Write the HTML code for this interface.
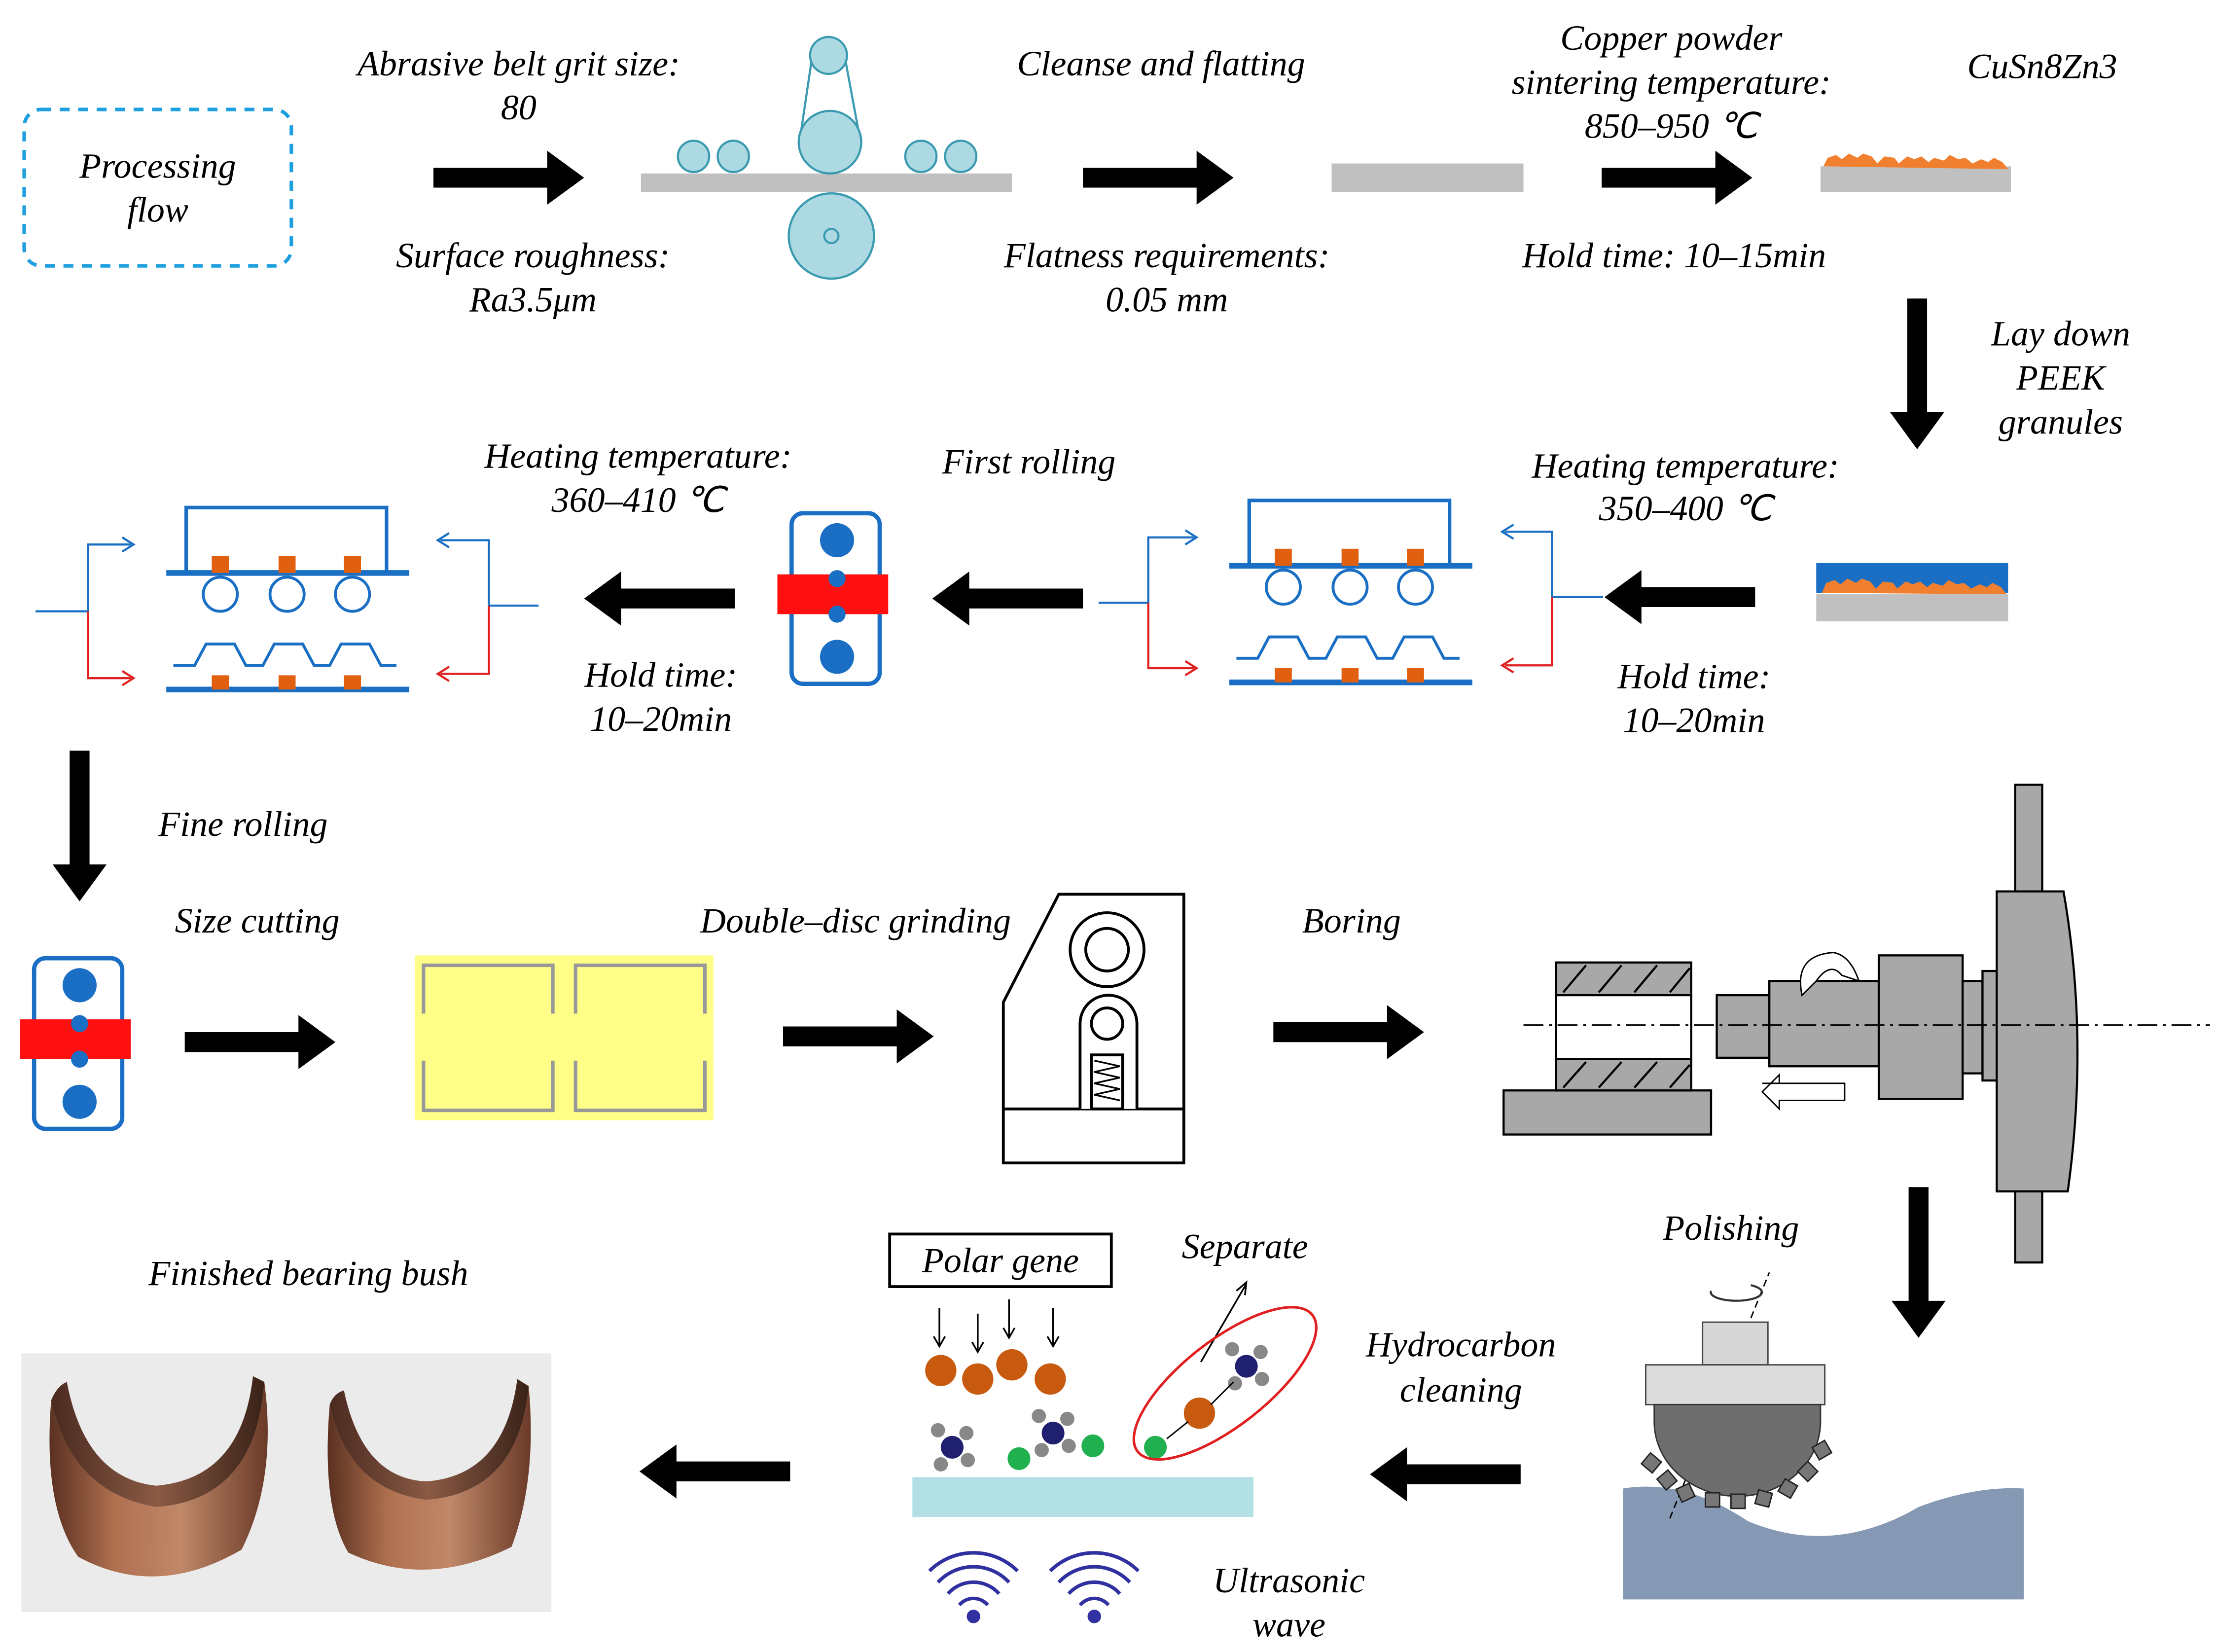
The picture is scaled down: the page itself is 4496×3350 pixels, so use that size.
<!DOCTYPE html>
<html><head><meta charset="utf-8"><style>
html,body{margin:0;padding:0;background:#fff}
svg{display:block}
text{font-family:"Liberation Serif",serif;font-style:italic;font-size:25px;fill:#000;text-anchor:middle}
</style></head><body>
<svg width="4496" height="3350" viewBox="0 0 1560 1162" preserveAspectRatio="none" xmlns="http://www.w3.org/2000/svg">
<defs>
<polygon id="ar" points="0,-7 80,-7 80,-19 106,0 80,19 80,7 0,7" fill="#000"/>
<linearGradient id="br" x1="0" x2="1" y1="0" y2="0">
<stop offset="0" stop-color="#5a3020"/><stop offset="0.3" stop-color="#b07050"/><stop offset="0.6" stop-color="#c08868"/><stop offset="1" stop-color="#6a3a28"/></linearGradient>
<linearGradient id="bi" x1="0" x2="1" y1="0" y2="0">
<stop offset="0" stop-color="#4a2a20"/><stop offset="0.5" stop-color="#8a5a44"/><stop offset="1" stop-color="#3a2218"/></linearGradient>
<g id="press">
<rect x="14" y="0" width="141" height="46" fill="none" stroke="#1a6fc4" stroke-width="2.5"/>
<line x1="0" y1="46" x2="171" y2="46" stroke="#1a6fc4" stroke-width="4"/>
<rect x="32" y="34" width="12" height="12" fill="#e06010"/><rect x="79" y="34" width="12" height="12" fill="#e06010"/><rect x="125" y="34" width="12" height="12" fill="#e06010"/>
<circle cx="38" cy="61" r="12" fill="none" stroke="#1a6fc4" stroke-width="2"/><circle cx="85" cy="61" r="12" fill="none" stroke="#1a6fc4" stroke-width="2"/><circle cx="131" cy="61" r="12" fill="none" stroke="#1a6fc4" stroke-width="2"/>
<polyline points="5,111 20,111 28,96 48,96 56,111 68,111 76,96 96,96 104,111 115,111 123,96 143,96 151,111 162,111" fill="none" stroke="#1a6fc4" stroke-width="2"/>
<line x1="0" y1="128" x2="171" y2="128" stroke="#1a6fc4" stroke-width="4"/>
<rect x="32" y="118" width="12" height="10" fill="#e06010"/><rect x="79" y="118" width="12" height="10" fill="#e06010"/><rect x="125" y="118" width="12" height="10" fill="#e06010"/>
</g>
<g id="roller">
<rect x="0" y="0" width="62" height="120" rx="8" fill="#fff" stroke="#1a6fc4" stroke-width="3"/>
<rect x="-10" y="43" width="78" height="28" fill="#ff1010"/>
<circle cx="32" cy="19" r="12" fill="#1a6fc4"/><circle cx="32" cy="101" r="12" fill="#1a6fc4"/>
<circle cx="32" cy="46" r="6" fill="#1a6fc4"/><circle cx="32" cy="71" r="6" fill="#1a6fc4"/>
</g>
<g id="mol"><circle cx="0" cy="0" r="8" fill="#202070"/><circle cx="-10" cy="-12" r="5" fill="#888"/><circle cx="10" cy="-10" r="5" fill="#888"/><circle cx="-8" cy="12" r="5" fill="#888"/><circle cx="11" cy="9" r="5" fill="#888"/></g>
<g id="wave" fill="none" stroke="#3030a0" stroke-width="2.5"><path d="M-10,-8 A13,13 0 0 1 10,-8"/><path d="M-18,-16 A24,24 0 0 1 18,-16"/><path d="M-25,-24 A34,34 0 0 1 25,-24"/><path d="M-31,-32 A44,44 0 0 1 31,-32"/><circle cx="0" cy="0" r="3.5" fill="#3030a0"/></g>
</defs>

<rect x="17" y="77" width="188" height="110" rx="12" fill="none" stroke="#1ea0e0" stroke-width="2.5" stroke-dasharray="7,6"/>
<text x="111" y="125">Processing</text><text x="111" y="156">flow</text>
<text x="365" y="53">Abrasive belt grit size:</text><text x="365" y="84">80</text>
<use href="#ar" x="305" y="125"/>
<text x="375" y="188">Surface roughness:</text><text x="375" y="219">Ra3.5μm</text>
<rect x="451" y="122" width="261" height="13" fill="#c0c0c0"/>
<g fill="#acd9e2" stroke="#3a9ab0" stroke-width="1.5">
<line x1="571" y1="43" x2="563" y2="97"/><line x1="595" y1="43" x2="605" y2="97"/>
<circle cx="488" cy="110" r="11"/><circle cx="516" cy="110" r="11"/><circle cx="648" cy="110" r="11"/><circle cx="676" cy="110" r="11"/>
<circle cx="584" cy="100" r="22"/><circle cx="583" cy="39" r="13"/><circle cx="585" cy="166" r="30"/><circle cx="585" cy="166" r="5"/></g>
<text x="817" y="53">Cleanse and flatting</text>
<use href="#ar" x="762" y="125"/>
<text x="821" y="188">Flatness requirements:</text><text x="821" y="219">0.05 mm</text>
<rect x="937" y="115" width="135" height="20" fill="#c0c0c0"/>
<text x="1176" y="35">Copper powder</text><text x="1176" y="66">sintering temperature:</text><text x="1176" y="97">850–950 ℃</text>
<use href="#ar" x="1127" y="125"/>
<text x="1178" y="188">Hold time: 10–15min</text>
<text x="1437" y="55">CuSn8Zn3</text>
<rect x="1281" y="117" width="134" height="18" fill="#c0c0c0"/>
<path d="M1283,117 l3,-6 6,-2 4,3 5,-4 6,3 4,-3 6,2 4,5 5,-5 7,1 3,4 6,-5 5,2 5,-2 5,4 4,-3 7,2 4,-4 6,3 5,-1 5,4 6,-3 5,2 4,-3 6,3 4,5 z" fill="#f08030"/>
<use href="#ar" transform="translate(1349,210) rotate(90)"/>
<text x="1450" y="243">Lay down</text><text x="1450" y="274">PEEK</text><text x="1450" y="305">granules</text>

<text x="1186" y="336">Heating temperature:</text><text x="1186" y="366">350–400 ℃</text>
<rect x="1278" y="396" width="135" height="21" fill="#1a6fc4"/>
<path d="M1282,417 l3,-7 6,-2 4,3 5,-4 6,3 4,-3 6,2 4,5 5,-5 7,1 3,4 6,-5 5,2 5,-2 5,4 4,-3 7,2 4,-4 6,3 5,-1 5,4 6,-3 5,2 4,-3 6,3 4,5 z" fill="#f08030"/>
<rect x="1278" y="418" width="135" height="19" fill="#c0c0c0"/>
<use href="#ar" transform="translate(1235,420) rotate(180)"/>
<text x="1192" y="484">Hold time:</text><text x="1192" y="515">10–20min</text>
<use href="#press" x="865" y="352"/>
<g fill="none" stroke-width="1.5">
<polyline points="773,424 808,424 808,378 840,378" stroke="#1a6fc4"/><polyline points="808,424 808,470 840,470" stroke="#e02020"/>
<polyline points="834,373 842,378 834,383" stroke="#1a6fc4"/><polyline points="834,465 842,470 834,475" stroke="#e02020"/>
<polyline points="1128,420 1092,420 1092,374 1059,374" stroke="#1a6fc4"/><polyline points="1092,420 1092,468 1059,468" stroke="#e02020"/>
<polyline points="1065,369 1057,374 1065,379" stroke="#1a6fc4"/><polyline points="1065,463 1057,468 1065,473" stroke="#e02020"/>
</g>
<text x="724" y="333">First rolling</text>
<use href="#ar" transform="translate(762,421) rotate(180)"/>
<use href="#roller" x="557" y="361"/>
<use href="#ar" transform="translate(517,421) rotate(180)"/>
<text x="449" y="329">Heating temperature:</text><text x="449" y="360">360–410 ℃</text>
<text x="465" y="483">Hold time:</text><text x="465" y="514">10–20min</text>
<use href="#press" x="117" y="357"/>
<g fill="none" stroke-width="1.5">
<polyline points="25,430 62,430 62,383 92,383" stroke="#1a6fc4"/><polyline points="62,430 62,477 92,477" stroke="#e02020"/>
<polyline points="86,378 94,383 86,388" stroke="#1a6fc4"/><polyline points="86,472 94,477 86,482" stroke="#e02020"/>
<polyline points="379,426 344,426 344,380 310,380" stroke="#1a6fc4"/><polyline points="344,426 344,474 310,474" stroke="#e02020"/>
<polyline points="316,375 308,380 316,385" stroke="#1a6fc4"/><polyline points="316,469 308,474 316,479" stroke="#e02020"/>
</g>

<use href="#ar" transform="translate(56,528) rotate(90)"/>
<text x="171" y="588">Fine rolling</text>
<text x="181" y="656">Size cutting</text>
<use href="#roller" x="24" y="674"/>
<use href="#ar" x="130" y="733"/>
<rect x="292" y="672" width="210" height="116" fill="#ffff88"/>
<g fill="none" stroke="#999" stroke-width="2.5">
<polyline points="298,713 298,679 389,679 389,713"/><polyline points="298,746 298,781 389,781 389,746"/>
<polyline points="405,713 405,679 496,679 496,713"/><polyline points="405,746 405,781 496,781 496,746"/></g>
<text x="602" y="656">Double–disc grinding</text>
<use href="#ar" x="551" y="729"/>
<g fill="#fff" stroke="#000" stroke-width="2">
<polygon points="706,705 745,629 833,629 833,818 706,818"/>
<line x1="706" y1="780" x2="833" y2="780"/>
<circle cx="779" cy="668" r="26"/><circle cx="779" cy="668" r="15"/>
<path d="M760,780 L760,720 A20,20 0 0 1 800,720 L800,780"/>
<circle cx="779" cy="720" r="11"/>
<rect x="768" y="742" width="22" height="38"/>
<polyline points="770,746 788,750 770,754 788,758 770,762 788,766 770,770 788,774" fill="none" stroke-width="1.2"/>
</g>
<text x="951" y="656">Boring</text>
<use href="#ar" x="896" y="726"/>
<g stroke="#000" stroke-width="1.5">
<rect x="1058" y="767" width="146" height="31" fill="#a8a8a8"/>
<rect x="1095" y="677" width="95" height="90" fill="#a8a8a8"/>
<rect x="1095" y="700" width="95" height="45" fill="#fff"/>
<g fill="none"><line x1="1100" y1="698" x2="1116" y2="679"/><line x1="1125" y1="698" x2="1141" y2="679"/><line x1="1150" y1="698" x2="1166" y2="679"/><line x1="1175" y1="698" x2="1189" y2="681"/>
<line x1="1100" y1="765" x2="1116" y2="747"/><line x1="1125" y1="765" x2="1141" y2="747"/><line x1="1150" y1="765" x2="1166" y2="747"/><line x1="1175" y1="765" x2="1189" y2="749"/></g>
<rect x="1208" y="700" width="37" height="44" fill="#a8a8a8"/>
<rect x="1245" y="690" width="77" height="60" fill="#a8a8a8"/>
<rect x="1418" y="552" width="19" height="336" fill="#a8a8a8"/>
<rect x="1322" y="672" width="59" height="101" fill="#a8a8a8"/>
<rect x="1381" y="690" width="14" height="65" fill="#a8a8a8"/>
<rect x="1395" y="683" width="10" height="77" fill="#a8a8a8"/>
<path d="M1405,627 L1452,627 Q1470,730 1455,838 L1405,838 Z" fill="#a8a8a8"/>
<path d="M1240,762 L1252,762 L1252,756 L1240,768 L1252,780 L1252,774 L1298,774 L1298,762 Z" fill="#fff" stroke-width="1"/>
<path d="M1268,700 Q1262,672 1290,670 Q1302,672 1308,690 L1296,686 Q1288,676 1278,690 Z" fill="#fff" stroke-width="1"/>
</g>
<line x1="1072" y1="721" x2="1555" y2="721" stroke="#000" stroke-width="1" stroke-dasharray="14,4,2,4"/>
<use href="#ar" transform="translate(1350,835) rotate(90)"/>

<text x="1218" y="872">Polishing</text>
<path d="M1142,1047 Q1185,1040 1230,1070 Q1290,1095 1350,1060 Q1390,1045 1424,1047 L1424,1125 L1142,1125 Z" fill="#8598b4"/>
<line x1="1175" y1="1068" x2="1245" y2="895" stroke="#000" stroke-dasharray="5,3" stroke-width="1"/>
<rect x="1198" y="930" width="46" height="30" fill="#d6d6d6" stroke="#444"/>
<rect x="1158" y="960" width="126" height="28" fill="#dcdcdc" stroke="#444"/>
<path d="M1164,988 L1281,988 L1281,1000 A58,52 0 0 1 1164,1000 Z" fill="#6e6e6e" stroke="#333"/>
<g fill="#777" stroke="#222" stroke-width="1">
<rect x="1157" y="1024" width="10" height="10" transform="rotate(-50 1162 1029)"/><rect x="1168" y="1036" width="10" height="10" transform="rotate(-40 1173 1041)"/><rect x="1181" y="1045" width="10" height="10" transform="rotate(-25 1186 1050)"/><rect x="1200" y="1050" width="10" height="10"/><rect x="1218" y="1051" width="10" height="10"/><rect x="1236" y="1049" width="10" height="10" transform="rotate(15 1241 1054)"/><rect x="1253" y="1042" width="10" height="10" transform="rotate(30 1258 1047)"/><rect x="1267" y="1030" width="10" height="10" transform="rotate(45 1272 1035)"/><rect x="1277" y="1015" width="10" height="10" transform="rotate(60 1282 1020)"/></g>
<path d="M1204,908 A18,6 0 1 0 1232,904" fill="none" stroke="#333" stroke-width="1.5"/>
<use href="#ar" transform="translate(1070,1037) rotate(180)"/>
<text x="1028" y="954">Hydrocarbon</text><text x="1028" y="986">cleaning</text>
<rect x="626" y="868" width="156" height="37" fill="#fff" stroke="#000" stroke-width="2"/>
<text x="704" y="895">Polar gene</text>
<g stroke="#000" stroke-width="1.2" fill="none">
<line x1="661" y1="920" x2="661" y2="946"/><polyline points="657,940 661,947 665,940"/>
<line x1="688" y1="924" x2="688" y2="950"/><polyline points="684,944 688,951 692,944"/>
<line x1="710" y1="914" x2="710" y2="940"/><polyline points="706,934 710,941 714,934"/>
<line x1="741" y1="920" x2="741" y2="946"/><polyline points="737,940 741,947 745,940"/>
<line x1="845" y1="958" x2="877" y2="903"/><polyline points="870,908 877,902 876,911"/>
</g>
<g fill="#c85a10"><circle cx="662" cy="964" r="11"/><circle cx="688" cy="970" r="11"/><circle cx="712" cy="960" r="11"/><circle cx="739" cy="970" r="11"/><circle cx="844" cy="994" r="11"/></g>
<use href="#mol" x="670" y="1018"/><use href="#mol" x="741" y="1008"/><use href="#mol" x="877" y="961"/>
<g fill="#20b050"><circle cx="717" cy="1026" r="8"/><circle cx="769" cy="1017" r="8"/><circle cx="813" cy="1018" r="8"/></g>
<line x1="821" y1="1012" x2="836" y2="1000" stroke="#000"/><line x1="852" y1="988" x2="868" y2="972" stroke="#000"/>
<rect x="642" y="1039" width="240" height="28" fill="#b2e0e4"/>
<ellipse cx="862" cy="973" rx="78" ry="30" transform="rotate(-38 862 973)" fill="none" stroke="#e02020" stroke-width="1.8"/>
<text x="876" y="885">Separate</text>
<use href="#wave" x="685" y="1137"/><use href="#wave" x="770" y="1137"/>
<text x="907" y="1120">Ultrasonic</text><text x="907" y="1151">wave</text>
<use href="#ar" transform="translate(556,1035) rotate(180)"/>
<text x="217" y="904">Finished bearing bush</text>
<rect x="15" y="952" width="373" height="182" fill="#ebebeb"/>
<path d="M36,985 Q30,1060 55,1095 Q110,1125 170,1090 Q195,1040 186,972 Q180,1055 110,1060 Q50,1050 36,985 Z" fill="url(#br)"/>
<path d="M36,985 Q40,975 47,972 Q60,1040 110,1045 Q170,1040 178,968 L186,972 Q180,1055 110,1060 Q50,1050 36,985 Z" fill="url(#bi)"/>
<path d="M232,988 Q226,1060 245,1092 Q300,1118 360,1088 Q378,1040 372,975 Q365,1050 300,1055 Q245,1048 232,988 Z" fill="url(#br)"/>
<path d="M232,988 Q235,980 242,978 Q255,1040 300,1042 Q355,1038 364,970 L372,975 Q365,1050 300,1055 Q245,1048 232,988 Z" fill="url(#bi)"/>
</svg>
</body></html>
